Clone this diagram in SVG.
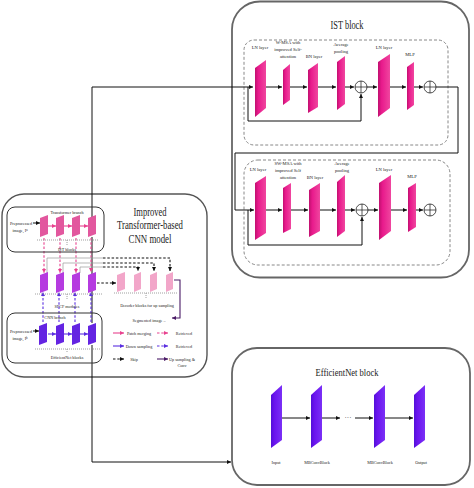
<svg xmlns="http://www.w3.org/2000/svg" width="474" height="488" viewBox="0 0 474 488">
<defs>
<style>
text{font-family:"Liberation Serif","Times New Roman",serif;fill:#222;text-anchor:middle}
.s{font-size:4.6px}
.xs{font-size:4.2px}
.box{fill:#fff;stroke:#555;stroke-width:1.4}
.inb{fill:none;stroke:#333;stroke-width:1}
.dbox{fill:none;stroke:#888;stroke-width:1;stroke-dasharray:3,2}
.ln{fill:none;stroke:#111;stroke-width:1}
.dot{fill:none;stroke:#888;stroke-width:0.8;stroke-dasharray:1,1}
.gr{fill:none;stroke:#999;stroke-width:0.7}
.bd{fill:none;stroke:#111;stroke-width:1.1;stroke-dasharray:2.5,1.8}
.pk{fill:none;stroke:#e8428f;stroke-width:1.1}
.pkd{fill:none;stroke:#e8428f;stroke-width:1.1;stroke-dasharray:2.5,1.8}
.pu{fill:none;stroke:#5a2ee0;stroke-width:1.1}
.pud{fill:none;stroke:#5a2ee0;stroke-width:1.1;stroke-dasharray:2.5,1.8}
.dp{fill:none;stroke:#4a1a66;stroke-width:1.1}
.ist{fill:url(#gpk)}
.eff{fill:url(#gpu)}
.tb{fill:#e2579e}
.sf{fill:#b53be0}
.cn{fill:#6424e2}
.de{fill:#f2a6c9}
.op{fill:#fff;stroke:#222;stroke-width:0.8}
</style>
<linearGradient id="gpk" x1="0" y1="0" x2="1" y2="0">
<stop offset="0" stop-color="#c0106f"/><stop offset="0.3" stop-color="#e81a8c"/><stop offset="1" stop-color="#f0469f"/>
</linearGradient>
<linearGradient id="gpu" x1="0" y1="0" x2="1" y2="0">
<stop offset="0" stop-color="#5210d8"/><stop offset="0.3" stop-color="#6a14ee"/><stop offset="1" stop-color="#7b30f6"/>
</linearGradient>
<marker id="ab" viewBox="0 0 6 6" refX="6" refY="3" markerWidth="4" markerHeight="4" orient="auto" markerUnits="userSpaceOnUse"><path d="M0,0L6,3L0,6z" fill="#111"/></marker>
<marker id="ap" viewBox="0 0 6 6" refX="6" refY="3" markerWidth="4" markerHeight="4" orient="auto" markerUnits="userSpaceOnUse"><path d="M0,0L6,3L0,6z" fill="#e8428f"/></marker>
<marker id="au" viewBox="0 0 6 6" refX="6" refY="3" markerWidth="4" markerHeight="4" orient="auto" markerUnits="userSpaceOnUse"><path d="M0,0L6,3L0,6z" fill="#5a2ee0"/></marker>
<marker id="ad" viewBox="0 0 6 6" refX="6" refY="3" markerWidth="4" markerHeight="4" orient="auto" markerUnits="userSpaceOnUse"><path d="M0,0L6,3L0,6z" fill="#4a1a66"/></marker>
</defs>

<!-- outer frames -->
<g id="model">
<rect class="box" x="2" y="194" width="205" height="183" rx="22"/>
<text x="150" y="216" font-size="12" textLength="33" lengthAdjust="spacingAndGlyphs">Improved</text>
<text x="150" y="229" font-size="12" textLength="66" lengthAdjust="spacingAndGlyphs">Transformer-based</text>
<text x="150" y="243" font-size="12" textLength="43" lengthAdjust="spacingAndGlyphs">CNN model</text>
</g>
<g id="ist-block">
<rect class="box" x="232" y="1.5" width="237" height="276" rx="28" style="stroke:#666;stroke-width:1.8"/>
<text x="347" y="29" font-size="12" textLength="33" lengthAdjust="spacingAndGlyphs">IST block</text>
<rect class="dbox" x="244" y="40" width="204" height="105" rx="10"/>
<rect class="dbox" x="244" y="160" width="206" height="105" rx="14"/>
</g>
<g id="efficientnet-block">
<rect class="box" x="232" y="348" width="238" height="137" rx="25" style="stroke:#666;stroke-width:1.8"/>
<text x="347" y="376" font-size="10.5" textLength="63" lengthAdjust="spacingAndGlyphs">EfficientNet block</text>
</g>

<!-- connectors -->
<g id="connectors">
<!-- main trunk -->
<polyline class="ln" points="92,218 92,87 253,87" marker-end="url(#ab)"/>
<polyline class="ln" points="92,345 92,462 231,462" marker-end="url(#ab)"/>
<line class="ln" x1="92" y1="237" x2="92" y2="323"/>
<!-- IST block 1 flow -->
<line class="ln" x1="266" y1="87" x2="282" y2="87" marker-end="url(#ab)"/>
<line class="ln" x1="290" y1="87" x2="307" y2="87" marker-end="url(#ab)"/>
<line class="ln" x1="318" y1="87" x2="336" y2="87" marker-end="url(#ab)"/>
<line class="ln" x1="345" y1="87" x2="354" y2="87" marker-end="url(#ab)"/>
<line class="ln" x1="367" y1="87" x2="377" y2="87" marker-end="url(#ab)"/>
<line class="ln" x1="390" y1="87" x2="406" y2="87" marker-end="url(#ab)"/>
<line class="ln" x1="414" y1="87" x2="423" y2="87" marker-end="url(#ab)"/>
<polyline class="ln" points="248,87 248,121 361,121 361,94" marker-end="url(#ab)"/>
<!-- link between blocks -->
<polyline class="ln" points="436,87 458,87 458,153 235,153 235,210 254,210" marker-end="url(#ab)"/>
<!-- IST block 2 flow -->
<line class="ln" x1="266" y1="210" x2="282" y2="210" marker-end="url(#ab)"/>
<line class="ln" x1="291" y1="210" x2="308" y2="210" marker-end="url(#ab)"/>
<line class="ln" x1="320" y1="210" x2="336" y2="210" marker-end="url(#ab)"/>
<line class="ln" x1="345" y1="210" x2="355" y2="210" marker-end="url(#ab)"/>
<line class="ln" x1="368" y1="210" x2="378" y2="210" marker-end="url(#ab)"/>
<line class="ln" x1="391" y1="210" x2="407" y2="210" marker-end="url(#ab)"/>
<line class="ln" x1="416" y1="210" x2="423" y2="210" marker-end="url(#ab)"/>
<polyline class="ln" points="248,210 248,245 362,245 362,217" marker-end="url(#ab)"/>
<!-- EfficientNet flow -->
<line class="ln" x1="282" y1="418" x2="310" y2="418" marker-end="url(#ab)"/>
<line class="ln" x1="322" y1="418" x2="340" y2="418" marker-end="url(#ab)"/>
<line class="ln" x1="355" y1="418" x2="373" y2="418" marker-end="url(#ab)"/>
<line class="ln" x1="385" y1="418" x2="413" y2="418" marker-end="url(#ab)"/>
<!-- left model: inputs -->
<line class="ln" x1="33" y1="223" x2="40" y2="223" marker-end="url(#ab)"/>
<line class="ln" x1="33" y1="331" x2="39" y2="331" marker-end="url(#ab)"/>
<!-- transformer row -->
<line class="pk" x1="48" y1="226" x2="56" y2="226" marker-end="url(#ap)"/>
<line class="pk" x1="64" y1="226" x2="72" y2="226" marker-end="url(#ap)"/>
<line class="pk" x1="80" y1="226" x2="88" y2="226" marker-end="url(#ap)"/>
<!-- cnn row -->
<line class="pu" x1="48" y1="334" x2="56" y2="334" marker-end="url(#au)"/>
<line class="pu" x1="64" y1="334" x2="72" y2="334" marker-end="url(#au)"/>
<line class="pu" x1="80" y1="334" x2="88" y2="334" marker-end="url(#au)"/>
<!-- retrieved pink dashed down -->
<line class="pkd" x1="44" y1="238" x2="44" y2="273" marker-end="url(#ap)"/>
<line class="pkd" x1="60" y1="238" x2="60" y2="273" marker-end="url(#ap)"/>
<line class="pkd" x1="76" y1="238" x2="76" y2="273" marker-end="url(#ap)"/>
<line class="pkd" x1="91" y1="238" x2="91" y2="272" marker-end="url(#ap)"/>
<!-- retrieved purple dashed up -->
<line class="pud" x1="43" y1="322" x2="43" y2="292" marker-end="url(#au)"/>
<line class="pud" x1="59" y1="322" x2="59" y2="292" marker-end="url(#au)"/>
<line class="pud" x1="75" y1="322" x2="75" y2="292" marker-end="url(#au)"/>
<line class="pud" x1="91" y1="322" x2="91" y2="292" marker-end="url(#au)"/>
<!-- skip connections -->
<polyline class="gr" points="47,273 47,258 103,258"/>
<polyline class="gr" points="63,273 63,263 103,263"/>
<polyline class="gr" points="80,273 80,267 103,267"/>
<polyline class="bd" points="103,258 170,258 170,271" marker-end="url(#ab)"/>
<polyline class="bd" points="103,263 154,263 154,271" marker-end="url(#ab)"/>
<polyline class="bd" points="103,267 138,267 138,271" marker-end="url(#ab)"/>
<line class="bd" x1="97" y1="283" x2="116" y2="283" marker-end="url(#ab)"/>
<!-- decoder out -->
<polyline class="dp" points="174,280 180,280 180,318 172,318" marker-end="url(#ad)"/>
<!-- legend -->
<line class="pk" x1="113" y1="333" x2="124" y2="333" marker-end="url(#ap)"/>
<line class="pkd" x1="157" y1="333" x2="168" y2="333" marker-end="url(#ap)"/>
<line class="pu" x1="113" y1="346" x2="124" y2="346" marker-end="url(#au)"/>
<line class="pud" x1="157" y1="346" x2="168" y2="346" marker-end="url(#au)"/>
<line class="bd" x1="113" y1="359" x2="124" y2="359" marker-end="url(#ab)"/>
<line class="dp" x1="157" y1="359" x2="168" y2="359" marker-end="url(#ad)"/>
</g>

<!-- left model nodes -->
<g id="transformer-branch">
<rect class="inb" x="7" y="207" width="97" height="45" rx="8"/>
<text class="xs" x="67" y="214">Transformer branch</text>
<text class="xs" x="21" y="225">Preprocessed</text>
<text class="xs" x="20" y="232">image, I<tspan font-size="3" dy="-1.5">a</tspan></text>
<polygon class="tb" points="40,218 48,215 48,234 40,237"/>
<polygon class="tb" points="56,218 64,215 64,234 56,237"/>
<polygon class="tb" points="72,218 80,215 80,234 72,237"/>
<polygon class="tb" points="88,218 96,215 96,234 88,237"/>
<line class="dot" x1="37" y1="240" x2="99" y2="240"/>
<line class="dot" x1="67" y1="240" x2="67" y2="245"/>
<text class="xs" x="67" y="251">IST blocks</text>
</g>
<g id="sfcf-modules">
<polygon class="sf" points="40,275 48,272 48,290 40,293"/>
<polygon class="sf" points="56,275 64,272 64,290 56,293"/>
<polygon class="sf" points="72,275 80,272 80,290 72,293"/>
<polygon class="sf" points="88,275 96,272 96,290 88,293"/>
<line class="dot" x1="35" y1="294" x2="102" y2="294"/>
<line class="dot" x1="67" y1="294" x2="67" y2="299"/>
<text class="xs" x="67" y="308">SFCF modules</text>
</g>
<g id="decoder">
<polygon class="de" points="117,275 125,272 125,289 117,292"/>
<polygon class="de" points="134,275 141,272 141,289 134,292"/>
<polygon class="de" points="150,275 157,272 157,289 150,292"/>
<polygon class="de" points="166,275 173,272 173,289 166,292"/>
<line class="dot" x1="114" y1="293" x2="177" y2="293"/>
<line class="dot" x1="146" y1="293" x2="146" y2="298"/>
<text class="xs" x="147" y="307">Decoder blocks for up sampling</text>
<text class="xs" x="149" y="322">Segmented image –</text>
</g>
<g id="cnn-branch">
<rect class="inb" x="7" y="313" width="95" height="50" rx="8"/>
<text class="xs" x="55" y="319">CNN branch</text>
<text class="xs" x="21" y="333">Preprocessed</text>
<text class="xs" x="20" y="340">image, I<tspan font-size="3" dy="-1.5">b</tspan></text>
<polygon class="cn" points="39,326 47,323 47,342 39,345"/>
<polygon class="cn" points="56,326 64,323 64,342 56,345"/>
<polygon class="cn" points="72,326 80,323 80,342 72,345"/>
<polygon class="cn" points="88,326 96,323 96,342 88,345"/>
<line class="dot" x1="35" y1="349" x2="100" y2="349"/>
<line class="dot" x1="67" y1="349" x2="67" y2="353"/>
<text class="xs" x="67" y="359">EfficientNet blocks</text>
</g>
<g id="legend">
<text class="xs" x="139" y="334.5">Patch merging</text>
<text class="xs" x="184" y="334.5">Retrieved</text>
<text class="xs" x="139" y="347.5">Down sampling</text>
<text class="xs" x="184" y="347.5">Retrieved</text>
<text class="xs" x="134" y="360.5">Skip</text>
<text class="xs" x="182" y="360.5">Up sampling &amp;</text>
<text class="xs" x="182" y="367">Conv</text>
</g>

<!-- IST block 1 layers -->
<g id="ist1-ln1"><polygon class="ist" points="255,68 266,60 266,108 255,117"/><text class="s" x="260" y="49">LN layer</text></g>
<g id="ist1-wmsa"><polygon class="ist" points="283,70 290,64 290,100 283,105"/><text class="s" x="288" y="44">W-MSA with</text><text class="s" x="288" y="51">improved Self-</text><text class="s" x="288" y="58">attention</text></g>
<g id="ist1-bn"><polygon class="ist" points="308,70 318,63 318,107 308,113"/><text class="s" x="314" y="58">BN layer</text></g>
<g id="ist1-pool"><polygon class="ist" points="337,62 345,56 345,104 337,110"/><text class="s" x="341" y="46">Average</text><text class="s" x="341" y="53">pooling</text></g>
<g id="ist1-add1"><circle class="op" cx="361" cy="87" r="6"/><path class="ln" d="M355,87H367M361,81V93" style="stroke-width:0.7"/></g>
<g id="ist1-ln2"><polygon class="ist" points="378,62 390,54 390,108 378,117"/><text class="s" x="384" y="49">LN layer</text></g>
<g id="ist1-mlp"><polygon class="ist" points="407,67 414,62 414,105 407,110"/><text class="s" x="410" y="56">MLP</text></g>
<g id="ist1-add2"><circle class="op" cx="430" cy="87" r="6"/><path class="ln" d="M424,87H436M430,81V93" style="stroke-width:0.7"/></g>

<!-- IST block 2 layers -->
<g id="ist2-ln1"><polygon class="ist" points="255,183 266,176 266,233 255,240"/><text class="s" x="258" y="171">LN layer</text></g>
<g id="ist2-swmsa"><polygon class="ist" points="283,188 291,183 291,229 283,233"/><text class="s" x="288" y="165">SW-MSA with</text><text class="s" x="288" y="172">improved Self</text><text class="s" x="288" y="179">attention</text></g>
<g id="ist2-bn"><polygon class="ist" points="309,190 320,183 320,231 309,237"/><text class="s" x="315" y="179">BN layer</text></g>
<g id="ist2-pool"><polygon class="ist" points="337,182 345,175 345,231 337,237"/><text class="s" x="342" y="165">Average</text><text class="s" x="342" y="172">pooling</text></g>
<g id="ist2-add1"><circle class="op" cx="362" cy="210" r="6"/><path class="ln" d="M356,210H368M362,204V216" style="stroke-width:0.7"/></g>
<g id="ist2-ln2"><polygon class="ist" points="379,183 391,175 391,231 379,240"/><text class="s" x="384" y="171">LN layer</text></g>
<g id="ist2-mlp"><polygon class="ist" points="408,188 416,183 416,227 408,232"/><text class="s" x="412" y="178">MLP</text></g>
<g id="ist2-add2"><circle class="op" cx="430" cy="210" r="6"/><path class="ln" d="M424,210H436M430,204V216" style="stroke-width:0.7"/></g>

<!-- EfficientNet block layers -->
<g id="eff-input"><polygon class="eff" points="271,395 282,385 282,440 271,448"/><text class="xs" x="276" y="464">Input</text></g>
<g id="eff-mb1"><polygon class="eff" points="311,395 322,385 322,440 311,448"/><text class="xs" x="317" y="464">MBConvBlock</text></g>
<text x="348" y="420" font-size="7">···</text>
<g id="eff-mb2"><polygon class="eff" points="374,395 385,385 385,440 374,448"/><text class="xs" x="380" y="464">MBConvBlock</text></g>
<g id="eff-output"><polygon class="eff" points="414,395 425,385 425,440 414,448"/><text class="xs" x="421" y="464">Output</text></g>
</svg>
